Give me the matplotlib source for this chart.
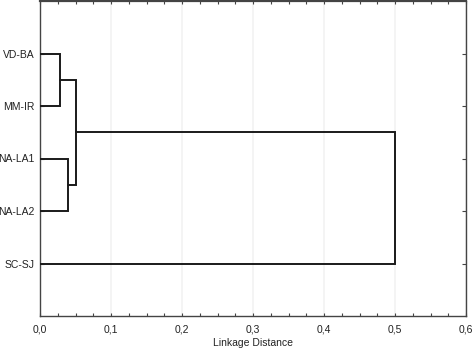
import matplotlib.pyplot as plt
from matplotlib.ticker import MultipleLocator, FuncFormatter

# Листья сверху вниз и шаги объединения (a, b, расстояние)
leaves = ['VD-BA', 'MM-IR', 'NA-LA1', 'NA-LA2', 'SC-SJ']
merges = [
    ('VD-BA', 'MM-IR', 0.028),
    ('NA-LA1', 'NA-LA2', 0.039),
    ('c0', 'c1', 0.051),
    ('c2', 'SC-SJ', 0.5),
]

plt.rcParams['font.family'] = ['Liberation Sans', 'DejaVu Sans']
plt.rcParams['font.size'] = 7.5

fig = plt.figure(figsize=(4.74, 3.51), dpi=100)
ax = fig.add_axes([40 / 474, 1 - 316 / 351, 426 / 474, 315 / 351])

pos = {name: (0.0, i + 1) for i, name in enumerate(leaves)}
for k, (a, b, d) in enumerate(merges):
    xa, ya = pos[a]
    xb, yb = pos[b]
    ax.plot([xa, d, d, xb], [ya, ya, yb, yb], color='#1a1a1a', lw=1.4,
            solid_joinstyle='miter', zorder=3)
    pos['c%d' % k] = (d, (ya + yb) / 2)

ax.set_xlim(0, 0.6)
ax.set_ylim(6, 0)
ax.set_yticks(range(1, len(leaves) + 1))
ax.set_yticklabels(leaves)
ax.xaxis.set_major_locator(MultipleLocator(0.1))
ax.xaxis.set_minor_locator(MultipleLocator(0.025))
ax.xaxis.set_major_formatter(FuncFormatter(lambda v, p: ('%.1f' % v).replace('.', ',')))
ax.tick_params(axis='both', which='both', direction='in', top=True, right=True,
               length=2.5, width=0.8, color='#444444', labelcolor='#222222', pad=6)
ax.tick_params(axis='y', length=3, pad=4)
ax.grid(True, axis='x', which='major', color='#f2f2f2', lw=1.2)
ax.set_axisbelow(True)
for s in ax.spines.values():
    s.set_color('#444444')
    s.set_linewidth(1.0)
ax.spines['top'].set_linewidth(1.6)
ax.set_xlabel('Linkage Distance', color='#222222', labelpad=3)

fig.savefig('out.png', dpi=100)
plt.close()
